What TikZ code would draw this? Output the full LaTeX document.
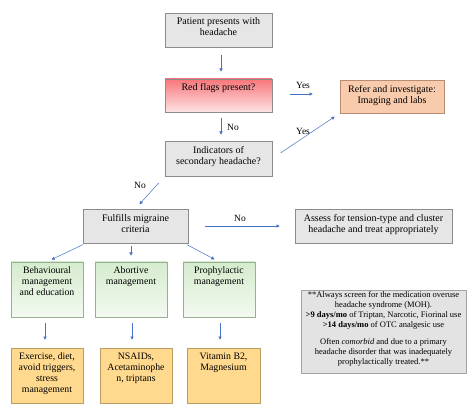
\documentclass[tikz,border=0pt]{standalone}
\usepackage{fontspec}
\setmainfont{Liberation Serif}
\usetikzlibrary{arrows.meta,calc}
\definecolor{arrblue}{HTML}{4472C4}
\definecolor{boxgray}{HTML}{8C8C8C}
\definecolor{grayfill}{HTML}{E7E6E6}
\definecolor{redtop}{HTML}{F7767A}
\definecolor{redbot}{HTML}{FDE3E3}
\definecolor{orfill}{HTML}{F8CBAD}
\definecolor{orline}{HTML}{B88C72}
\definecolor{grtop}{HTML}{D5ECCD}
\definecolor{grbot}{HTML}{F3F9F1}
\definecolor{grline}{HTML}{9AAE94}
\definecolor{yefill}{HTML}{FFD98E}
\definecolor{yeline}{HTML}{B89C62}
\definecolor{notefill}{HTML}{E3E3E3}
\definecolor{noteline}{HTML}{A3A3A3}
\newcommand\bxt[4][6pt]{\parbox[t][#3][t]{#2}{\centering\vspace*{#1}#4}}
\begin{document}
\begin{tikzpicture}[x=1pt,y=-1pt,
  basebox/.style={inner sep=0pt, line width=0.6pt, font=\fontsize{10}{11}\selectfont},
  lowbox/.style={inner sep=0pt, line width=0.6pt, font=\fontsize{9.8}{11}\selectfont},
  graybox/.style={basebox, draw=boxgray, fill=grayfill},
  redbox/.style={basebox, draw=boxgray, top color=redtop, bottom color=redbot},
  orbox/.style={basebox, draw=orline, fill=orfill},
  grbox/.style={lowbox, draw=grline, top color=grtop, bottom color=grbot},
  yebox/.style={lowbox, draw=yeline, fill=yefill},
  notebox/.style={inner sep=0pt, line width=1pt, draw=noteline, fill=notefill, font=\fontsize{8.5}{10}\selectfont},
  arr/.style={draw=arrblue, line width=0.5pt, -{Triangle[length=3.2pt,width=3.2pt]}},
  lbl/.style={font=\fontsize{9.5}{11}\selectfont, inner sep=0pt}]
\useasboundingbox (0,0) rectangle (474,414);
% boxes
\node[graybox] (A) at (218.5,30) {\bxt[5pt]{107pt}{34pt}{Patient presents with\\headache}};
\node[redbox] (B) at (218.5,95.5) {\bxt[4.5pt]{107pt}{33pt}{Red flags present?}};
\node[orbox] (C) at (392,96.5) {\bxt[5pt]{104pt}{33pt}{Refer and investigate:\\Imaging and labs}};
\node[graybox] (D) at (218.5,158.5) {\bxt[5pt]{107pt}{35pt}{Indicators of\\secondary headache?}};
\node[graybox] (E) at (135.5,226) {\bxt[5pt]{105pt}{34pt}{Fulfills migraine\\criteria}};
\node[graybox] (F) at (373.5,226) {\bxt[5pt]{157pt}{34pt}{Assess for tension-type and cluster\\headache and treat appropriately}};
\node[grbox] (G1) at (47,289.5) {\bxt[5pt]{72pt}{55pt}{Behavioural\\management\\and education}};
\node[grbox] (G2) at (131,289.5) {\bxt[5pt]{72pt}{55pt}{Abortive\\management}};
\node[grbox] (G3) at (219,289.5) {\bxt[5pt]{72pt}{55pt}{Prophylactic\\management}};
\node[yebox] (H1) at (47,375.5) {\bxt[5pt]{72pt}{55pt}{Exercise, diet,\\avoid triggers,\\stress\\management}};
\node[yebox] (H2) at (136,375.5) {\bxt[5pt]{72pt}{55pt}{NSAIDs,\\Acetaminophe\\n, triptans}};
\node[yebox] (H3) at (223.5,375.5) {\bxt[5pt]{73pt}{55pt}{Vitamin B2,\\Magnesium}};
\node[notebox] (N) at (383.5,331.5) {\bxt[2pt]{165pt}{83pt}{**Always screen for the medication overuse\\headache syndrome (MOH).\\\textbf{>9 days/mo} of Triptan, Narcotic, Fiorinal use\\\textbf{>14 days/mo} of OTC analgesic use\\[7pt]Often \textit{comorbid} and due to a primary\\headache disorder that was inadequately\\prophylactically treated.**}};
% labels
\node[lbl] (yes1) at (303,85) {Yes};
\node[lbl] (no1) at (233,127) {No};
\node[lbl] (yes2) at (303,131) {Yes};
\node[lbl] (no2) at (140,185) {No};
\node[lbl] (no3) at (240,218) {No};
% connectors
\draw[arr, shorten <=8pt, shorten >=7pt] ([xshift=2.5pt]A.south) -- ([xshift=2.5pt]B.north);
\draw[arr, shorten <=18pt, shorten >=27pt] ([yshift=1.5pt]B.east) -- ([yshift=1.5pt]B.east -| C.west);
\draw[arr, shorten <=6pt, shorten >=6pt] ([xshift=2.5pt]B.south) -- ([xshift=2.5pt]D.north);
\draw[arr, shorten <=10pt, shorten >=6pt] (D.east) -- (C.south west);
\draw[arr, shorten <=9pt, shorten >=6pt] (D.south west) -- (E.north);
\draw[arr, shorten <=17pt, shorten >=15pt] (E.east) -- (F.west);
\draw[arr, shorten <=3pt, shorten >=5pt] ([xshift=3pt]E.south west) -- (G1.north);
\draw[arr, shorten <=3pt, shorten >=6pt] (E.south -| G2.north) -- (G2.north);
\draw[arr, shorten <=3pt, shorten >=5pt] ([xshift=-4pt]E.south east) -- (G3.north);
\draw[arr, shorten <=6pt, shorten >=8pt] ([xshift=-2pt]G1.south) -- ([xshift=-2pt]G1.south |- H1.north);
\draw[arr, shorten <=6pt, shorten >=8pt] ([xshift=1pt]G2.south) -- ([xshift=1pt]G2.south |- H2.north);
\draw[arr, shorten <=6pt, shorten >=8pt] ([xshift=1pt]G3.south) -- ([xshift=1pt]G3.south |- H3.north);
\end{tikzpicture}
\end{document}
